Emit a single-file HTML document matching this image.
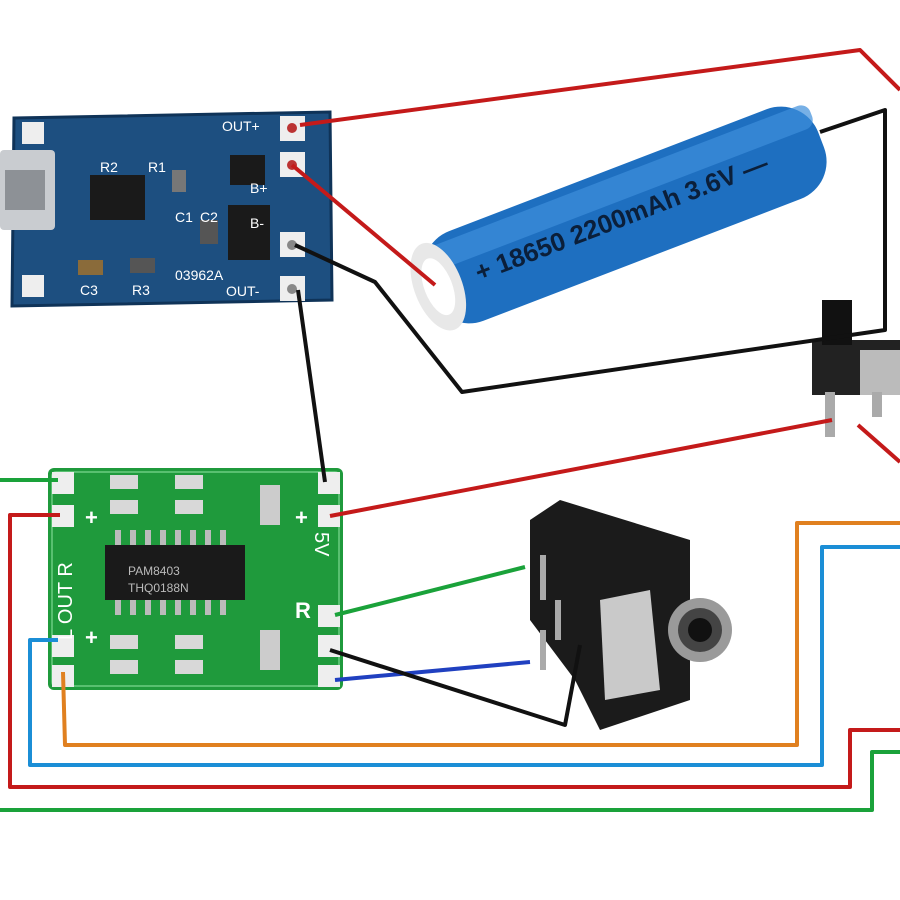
<!DOCTYPE html>
<html><head><meta charset="utf-8"><style>
html,body{margin:0;padding:0;background:#fff}
svg{display:block}
text{font-family:"Liberation Sans",sans-serif}
</style></head><body>
<svg width="900" height="900" viewBox="0 0 900 900" xmlns="http://www.w3.org/2000/svg">
<rect width="900" height="900" fill="#fff"/>

<!-- TP4056 board -->
<g>
<polygon points="14,118 330,112 332,300 12,306" fill="#1d4f80"/>
<polygon points="14,118 330,112 332,300 12,306" fill="none" stroke="#0f3358" stroke-width="3"/>
<rect x="0" y="150" width="55" height="80" rx="4" fill="#c9ccd0"/>
<rect x="5" y="170" width="40" height="40" fill="#8d9196"/>
<rect x="90" y="175" width="55" height="45" fill="#1a1a1a"/>
<rect x="230" y="155" width="35" height="30" fill="#1a1a1a"/>
<rect x="228" y="205" width="42" height="55" fill="#1a1a1a"/>
<rect x="172" y="170" width="14" height="22" fill="#777"/>
<rect x="200" y="220" width="18" height="24" fill="#555"/>
<rect x="78" y="260" width="25" height="15" fill="#8a6b3a"/>
<rect x="130" y="258" width="25" height="15" fill="#555"/>
<rect x="280" y="116" width="25" height="25" fill="#eee"/><circle cx="292" cy="128" r="5" fill="#b33"/>
<rect x="280" y="152" width="25" height="25" fill="#eee"/><circle cx="292" cy="165" r="5" fill="#b33"/>
<rect x="280" y="232" width="25" height="25" fill="#eee"/><circle cx="292" cy="245" r="5" fill="#888"/>
<rect x="280" y="276" width="25" height="25" fill="#eee"/><circle cx="292" cy="289" r="5" fill="#888"/>
<rect x="22" y="122" width="22" height="22" fill="#eee"/>
<rect x="22" y="275" width="22" height="22" fill="#eee"/>
<g fill="#fff" font-size="14">
<text x="222" y="131">OUT+</text><text x="250" y="193">B+</text><text x="250" y="228">B-</text>
<text x="226" y="296">OUT-</text><text x="100" y="172">R2</text><text x="148" y="172">R1</text>
<text x="80" y="295">C3</text><text x="132" y="295">R3</text><text x="175" y="280">03962A</text>
<text x="175" y="222">C1</text><text x="200" y="222">C2</text>
</g>
</g>

<!-- battery -->
<g transform="translate(625,215) rotate(-21)">
<rect x="-210" y="-48" width="420" height="96" rx="40" fill="#1e6fc0"/>
<rect x="-210" y="-40" width="420" height="25" rx="10" fill="#3d8fdc" opacity="0.7"/>
<ellipse cx="-200" cy="0" rx="24" ry="46" fill="#e8e8e8"/>
<ellipse cx="-200" cy="0" rx="14" ry="30" fill="#fff"/>
<text x="-160" y="10" font-family="Liberation Serif,serif" font-size="26" font-weight="bold" fill="#0b1f3a">+  18650 2200mAh 3.6V —</text>
</g>

<!-- switch -->
<rect x="812" y="340" width="88" height="55" fill="#222"/>
<rect x="822" y="300" width="30" height="45" fill="#111"/>
<rect x="860" y="350" width="40" height="45" fill="#bbb"/>
<rect x="825" y="392" width="10" height="45" fill="#aaa"/>
<rect x="872" y="392" width="10" height="25" fill="#aaa"/>

<!-- PAM8403 board -->
<rect x="48" y="468" width="295" height="222" rx="6" fill="#1f9a3c"/>
<rect x="52" y="472" width="287" height="214" rx="4" fill="none" stroke="#58c070" stroke-width="2"/>
<rect x="105" y="545" width="140" height="55" fill="#1a1a1a"/>
<g fill="#bbb"><rect x="115" y="530" width="6" height="15"/><rect x="130" y="530" width="6" height="15"/><rect x="145" y="530" width="6" height="15"/><rect x="160" y="530" width="6" height="15"/><rect x="175" y="530" width="6" height="15"/><rect x="190" y="530" width="6" height="15"/><rect x="205" y="530" width="6" height="15"/><rect x="220" y="530" width="6" height="15"/>
<rect x="115" y="600" width="6" height="15"/><rect x="130" y="600" width="6" height="15"/><rect x="145" y="600" width="6" height="15"/><rect x="160" y="600" width="6" height="15"/><rect x="175" y="600" width="6" height="15"/><rect x="190" y="600" width="6" height="15"/><rect x="205" y="600" width="6" height="15"/><rect x="220" y="600" width="6" height="15"/></g>
<g fill="#d8d8d8"><rect x="110" y="475" width="28" height="14"/><rect x="175" y="475" width="28" height="14"/><rect x="110" y="500" width="28" height="14"/><rect x="175" y="500" width="28" height="14"/>
<rect x="110" y="635" width="28" height="14"/><rect x="175" y="635" width="28" height="14"/><rect x="110" y="660" width="28" height="14"/><rect x="175" y="660" width="28" height="14"/></g>
<rect x="260" y="485" width="20" height="40" fill="#ccc"/>
<rect x="260" y="630" width="20" height="40" fill="#ccc"/>
<g fill="#eee"><rect x="52" y="472" width="22" height="22"/><rect x="52" y="505" width="22" height="22"/><rect x="52" y="635" width="22" height="22"/><rect x="52" y="665" width="22" height="22"/>
<rect x="318" y="472" width="22" height="22"/><rect x="318" y="505" width="22" height="22"/><rect x="318" y="605" width="22" height="22"/><rect x="318" y="635" width="22" height="22"/><rect x="318" y="665" width="22" height="22"/></g>
<text x="128" y="575" font-size="12" fill="#bbb">PAM8403</text>
<text x="128" y="592" font-size="12" fill="#bbb">THQ0188N</text>
<text transform="translate(72,640) rotate(-90)" font-size="20" fill="#fff">L OUT R</text>
<text transform="translate(315,532) rotate(90)" font-size="20" fill="#fff">5V</text>
<g fill="#fff" font-size="22" font-weight="bold"><text x="85" y="525">+</text><text x="85" y="645">+</text><text x="295" y="525">+</text><text x="295" y="618">R</text></g>

<!-- audio jack -->
<polygon points="530,520 560,500 690,540 690,700 600,730 575,680 530,620" fill="#1b1b1b"/>
<polygon points="600,600 650,590 660,690 605,700" fill="#c9c9c9"/>
<circle cx="700" cy="630" r="32" fill="#9a9a9a"/><circle cx="700" cy="630" r="22" fill="#444"/><circle cx="700" cy="630" r="12" fill="#111"/>
<g fill="#aaa"><rect x="540" y="555" width="6" height="45"/><rect x="555" y="600" width="6" height="40"/><rect x="540" y="630" width="6" height="40"/></g>

<!-- wires -->
<g fill="none" stroke-width="4" stroke-linejoin="round">
<polyline points="300,125 860,50 900,90" stroke="#c41a1a"/>
<polyline points="292,165 435,285" stroke="#c41a1a"/>
<polyline points="295,245 375,282 462,392 885,330 885,110 820,132" stroke="#111"/>
<polyline points="298,290 325,482" stroke="#111"/>
<polyline points="330,516 832,420" stroke="#c41a1a"/>
<polyline points="858,425 900,462" stroke="#c41a1a"/>
<polyline points="0,480 58,480" stroke="#1aa23a"/>
<polyline points="60,515 10,515 10,787 850,787 850,730 900,730" stroke="#c41a1a"/>
<polyline points="0,810 872,810 872,752 900,752" stroke="#1aa23a"/>
<polyline points="58,640 30,640 30,765 822,765 822,547 900,547" stroke="#1b8ed6"/>
<polyline points="63,672 65,745 797,745 797,523 900,523" stroke="#e08020"/>
<polyline points="335,615 525,567" stroke="#1aa23a"/>
<polyline points="335,680 530,662" stroke="#2040c0"/>
<polyline points="330,650 565,725 580,645" stroke="#111"/>
</g>
</svg>
</body></html>
